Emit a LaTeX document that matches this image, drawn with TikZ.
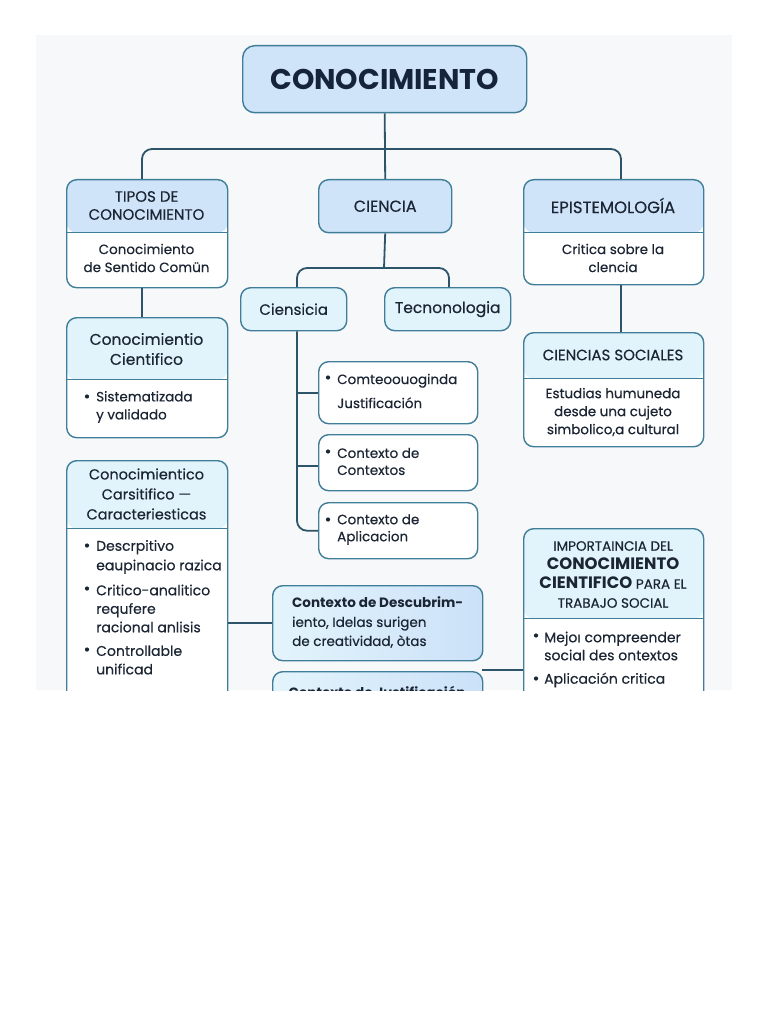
\documentclass[tikz,border=0pt]{standalone}
\usepackage{fontspec}
\setmainfont{Poppins}[UprightFeatures={FakeBold=0.4}]
\usetikzlibrary{calc}
\definecolor{bord}{HTML}{3F7D99}
\definecolor{connc}{HTML}{2D5468}
\definecolor{hblue}{HTML}{CFE3F9}
\definecolor{hcyan}{HTML}{E2F4FB}
\definecolor{ink}{HTML}{1B2533}
\definecolor{titlec}{HTML}{15243A}
\definecolor{panel}{HTML}{F7F8F9}
\definecolor{gradl}{HTML}{E3F4FC}
\definecolor{gradr}{HTML}{CBE1F8}
\newcommand\fsz[2]{\fontsize{#1}{#2}\selectfont}
\begin{document}
\begin{tikzpicture}[x=1pt,y=-1pt,
  box/.style={draw=bord, line width=1.4pt, rounded corners=10pt, fill=white, inner sep=0pt, anchor=north west, text=ink},
  hdr/.style 2 args={path picture={
     \fill[#2] (path picture bounding box.north west) rectangle ([yshift=-#1pt]path picture bounding box.north east);
     \draw[bord,line width=1.4pt] ([yshift=-#1pt]path picture bounding box.north west) -- ([yshift=-#1pt]path picture bounding box.north east);}},
  conn/.style={draw=connc, line width=1.8pt},
  txt/.style={text=ink, inner sep=0pt, align=center},
  ltxt/.style={text=ink, inner sep=0pt, align=left, anchor=west},
  bul/.style={fill=ink, circle, inner sep=0pt, minimum size=4.2pt, yshift=1.5pt},
]
\useasboundingbox (0,0) rectangle (768,1024);
\fill[white] (0,0) rectangle (768,1024);
\fill[panel] (36,35) rectangle (732,690);
\begin{scope}
\clip (36,35) rectangle (732,690);

% root
\node[box, fill=hblue, rounded corners=12pt, minimum width=284, minimum height=67, font=\fsz{28.5}{32}\bfseries, text=titlec] (root) at (242,45) {CONOCIMIENTO};

% level 1
\node[box, minimum width=161, minimum height=108, hdr={53}{hblue}] (tipos) at (66,179) {};
\node[txt, font=\fsz{15}{18}] (tiposh) at (146.5,205.5) {TIPOS DE\\CONOCIMIENTO};
\node[txt, font=\fsz{13.5}{18}] (tiposb) at (146.5,258) {Conocimiento\\de Sentido Comün};

\node[box, fill=hblue, minimum width=133, minimum height=53, font=\fsz{16}{18}] (ciencia) at (318,179) {CIENCIA};

\node[box, minimum width=180, minimum height=105, hdr={53}{hblue}] (epis) at (523,179) {};
\node[txt, font=\fsz{16.5}{18}] (epish) at (613,205.5) {EPISTEMOLOGÍA};
\node[txt, font=\fsz{13.5}{18}] (episb) at (613,258) {Critica sobre la\\clencia};

% conocimientio cientifico
\node[box, minimum width=161, minimum height=120, hdr={62}{hcyan}] (cc) at (66,317) {};
\node[txt, font=\fsz{15.5}{20}] (cch) at (146.5,349) {Conocimientio\\Cientifico};
\node[bul] (ccb0) at (87,398) {};
\node[ltxt, font=\fsz{13.5}{18}] (ccb) at (96,407) {Sistematizada\\y validado};

% ciencia children
\node[box, fill=hcyan, minimum width=106, minimum height=43, font=\fsz{15}{18}] (ciens) at (240,287) {Ciensicia};
\node[box, fill=hcyan, minimum width=126, minimum height=43, font=\fsz{15.5}{18}] (tecno) at (384,287) {Tecnonologia};

\node[box, minimum width=159, minimum height=62] (b1) at (318,361) {};
\node[bul] (b1b) at (328,379) {};
\node[ltxt, font=\fsz{13.5}{24}] (b1t) at (337,391) {Comteoouoginda\\Justificación};
\node[box, minimum width=159, minimum height=56] (b2) at (318,434) {};
\node[bul] (b2b) at (328,453) {};
\node[ltxt, font=\fsz{13.5}{17}] (b2t) at (337,461.5) {Contexto de\\Contextos};
\node[box, minimum width=159, minimum height=56] (b3) at (318,502) {};
\node[bul] (b3b) at (328,521) {};
\node[ltxt, font=\fsz{13.5}{17}] (b3t) at (337,529.5) {Contexto de\\Aplicacion};

% ciencias sociales
\node[box, minimum width=180, minimum height=114, hdr={46}{hcyan}] (cs) at (523,332) {};
\node[txt, font=\fsz{15}{18}] (csh) at (613,355) {CIENCIAS SOCIALES};
\node[txt, font=\fsz{13.5}{18}] (csb) at (613,412) {Estudias humuneda\\desde una cujeto\\simbolico,a cultural};

% caracteristicas
\node[box, minimum width=161, minimum height=330, hdr={68}{hcyan}] (carac) at (66,460) {};
\node[txt, font=\fsz{14.5}{20}] (carach) at (146.5,494) {Conocimientico\\Carsitifico —\\Caracteriesticas};
\node[bul] (k1b) at (87,547) {};
\node[ltxt, font=\fsz{14}{19.5}] (k1t) at (96,557) {Descrpitivo\\eaupinacio razica};
\node[bul] (k2b) at (87,590) {};
\node[ltxt, font=\fsz{14}{18.5}] (k2t) at (96,608.5) {Critico-analitico\\requfere\\racional anlisis};
\node[bul] (k3b) at (87,651) {};
\node[ltxt, font=\fsz{14}{18.5}] (k3t) at (96,660) {Controllable\\unificad};

% contextos
\node[box, left color=gradl, right color=gradr, minimum width=210, minimum height=75] (desc) at (272,585) {};
\node[ltxt, font=\fsz{13.5}{19}] (desct) at (292,622.5) {{\bfseries Contexto de Descubrim-}\\iento, Idelas surigen\\de creatividad, òtas};
\node[box, left color=gradl, right color=gradr, minimum width=210, minimum height=60] (just) at (272,671) {};
\node[txt, font=\fsz{13.5}{18}\bfseries] (justt) at (377,692) {Contexto de Justificación};

% importancia
\node[box, minimum width=180, minimum height=260, hdr={90}{hcyan}] (imp) at (523,528) {};
\node[txt, font=\fsz{13.5}{19}] (imph) at (613,574.5) {IMPORTAINCIA DEL\\{\fsz{16.5}{19}\bfseries CONOCIMIENTO}\\{\fsz{16.5}{19}\bfseries CIENTIFICO} PARA EL\\TRABAJO SOCIAL};
\node[bul] (i1b) at (536,637) {};
\node[ltxt, font=\fsz{14}{18}] (i1t) at (544,646) {Mejoı compreender\\social des ontextos};
\node[bul] (i2b) at (536,680) {};
\node[ltxt, font=\fsz{14}{18}] (i2t) at (544,680) {Aplicación critica};

% connectors
\coordinate (lx) at (142,0);
\coordinate (rx) at (621,0);
\coordinate (bar1) at (384,149);
\draw[conn] (root.south) -- (ciencia.north);
\draw[conn, rounded corners=10pt] (tipos.north -| lx) |- (bar1) -| (epis.north -| rx);
\draw[conn] (tipos.south -| lx) -- (cc.north -| lx);
\draw[conn] (epis.south -| rx) -- (cs.north -| rx);
\coordinate (bar2) at (384,268);
\coordinate (cv) at (297,268);
\coordinate (tv) at (449,268);
\draw[conn] (ciencia.south) -- (bar2);
\draw[conn, rounded corners=10pt] (ciens.north -| cv) |- (bar2) -| (tecno.north -| tv);
\draw[conn, rounded corners=10pt] (ciens.south -| cv) |- (b3.west);
\draw[conn] (b1.west -| cv) -- (b1.west);
\draw[conn] ([yshift=-3.5pt]b2.west -| cv) -- ([yshift=-3.5pt]b2.west);
\draw[conn] (desc.west -| carac.east) -- (desc.west);
\coordinate (jr) at (482,670);
\draw[conn] (jr) -- (jr -| imp.west);
\end{scope}
\end{tikzpicture}
\end{document}
